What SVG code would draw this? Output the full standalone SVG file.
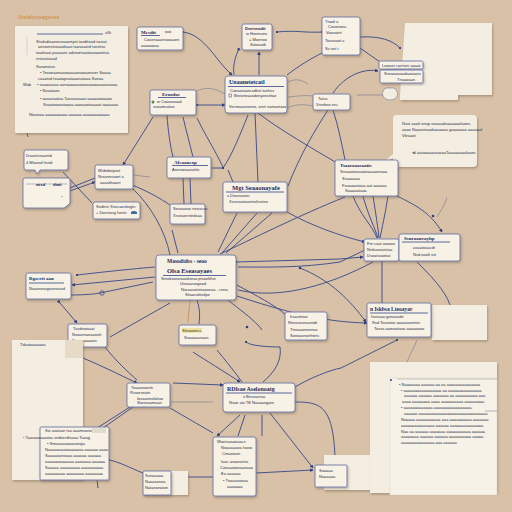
<svg xmlns="http://www.w3.org/2000/svg" width="512" height="512" viewBox="0 0 512 512">
<defs>
<marker id="ar" viewBox="0 0 6 6" refX="5" refY="3" markerWidth="4" markerHeight="4" orient="auto"><path d="M0,0L6,3L0,6z" fill="#2e3f80"/></marker>
<marker id="as" viewBox="0 0 6 6" refX="1" refY="3" markerWidth="4" markerHeight="4" orient="auto"><path d="M6,0L0,3L6,6z" fill="#2e3f80"/></marker>
<marker id="dt" viewBox="0 0 6 6" refX="3" refY="3" markerWidth="3" markerHeight="3"><circle cx="3" cy="3" r="2.5" fill="#2e3f80"/></marker>
<filter id="sh" x="-10%" y="-10%" width="130%" height="130%"><feDropShadow dx="1" dy="1.5" stdDeviation="1" flood-color="#6b5a48" flood-opacity="0.45"/></filter>
</defs>
<style>
.n{fill:#f7f1e6;stroke:#6d7aa8;stroke-width:0.9;filter:url(#sh)}
.note{fill:#f4eee2;stroke:none;filter:url(#sh)}
.c{fill:none;stroke:#34468a;stroke-width:0.9}
.g{fill:none;stroke:#8e8c98;stroke-width:0.8}
.h{font-family:"Liberation Serif",serif;font-weight:bold;fill:#1d2a5c}
.t{font-family:"Liberation Sans",sans-serif;fill:#2b2f45;font-size:4px}
.u{stroke:#34468a;stroke-width:0.8}
</style>
<rect width="512" height="512" fill="#d8c1a7"/>

<g id="connectors">
<path class="c" d="M183,32 C205,35 215,60 232,75" marker-start="url(#dt)" marker-end="url(#ar)"/>
<path class="c" d="M238,51 C234,60 233,68 234,75" marker-start="url(#ar)"/>
<path class="c" d="M259,75 L259,52" marker-end="url(#ar)"/>
<path class="c" d="M277,32 C295,30 305,33 322,32" marker-start="url(#dt)" marker-end="url(#dt)"/>
<path class="c" d="M287,75 C300,65 312,58 322,53"/>
<path class="c" d="M360,37 C380,36 392,40 400,48" marker-end="url(#dt)"/>
<path class="c" d="M360,48 L380,62"/>
<path class="c" d="M333,93 C345,75 365,68 378,71" marker-end="url(#ar)"/>
<path class="g" d="M357,95 L383,95"/>
<path class="g" d="M288,82 C296,78 302,80 308,84"/>
<path class="g" d="M288,97 C298,96 305,95 313,96"/>
<path class="g" d="M287,108 C296,104 303,104 313,106"/>
<path class="c" d="M328,110 C315,130 300,155 288,186"/>
<path class="c" d="M333,110 C338,125 342,145 345,160"/>
<path class="c" d="M258,113 C280,130 315,150 337,163"/>
<path class="c" d="M248,115 C240,135 232,155 223,168" marker-end="url(#dt)"/>
<path class="c" d="M255,113 L258,182"/>
<path class="c" d="M197,105 L225,105" marker-start="url(#dt)" marker-end="url(#ar)"/>
<path class="g" d="M195,92 C205,86 215,88 225,94"/>
<path class="c" d="M153,117 L123,165" marker-end="url(#ar)"/>
<path class="c" d="M167,115 C168,130 170,145 173,157"/>
<path class="c" d="M183,117 C186,130 190,145 193,157"/>
<path class="c" d="M197,118 C205,135 215,150 223,167"/>
<path class="c" d="M211,168 L223,168"/>
<path class="c" d="M63,172 L92,203"/>
<path class="c" d="M67,192 L95,182" marker-end="url(#ar)"/>
<path class="c" d="M70,188 L95,178"/>
<path class="g" d="M133,175 L150,177"/>
<path class="c" d="M132,185 C145,190 160,198 170,205"/>
<path class="c" d="M133,189 C150,205 165,230 170,255"/>
<path class="c" d="M183,178 L184,204"/>
<path class="c" d="M190,178 L191,204"/>
<path class="c" d="M228,170 L233,182"/>
<path class="c" d="M155,267 C120,270 95,273 77,275" marker-end="url(#dt)"/>
<path class="c" d="M155,277 L72,285" marker-end="url(#ar)"/>
<path class="c" d="M70,295 C85,295 95,294 100,293 L153,282"/>
<circle cx="102" cy="293" r="2.2" fill="none" stroke="#34468a" stroke-width="0.8"/>
<path class="c" d="M60,303 L77,323" marker-start="url(#ar)" marker-end="url(#ar)"/>
<path class="c" d="M110,337 L170,303"/>
<path class="c" d="M218,252 L237,213"/>
<path class="c" d="M222,253 L257,213"/>
<path class="c" d="M226,253 L272,213"/>
<path class="c" d="M220,254 C250,240 300,215 345,197"/>
<path class="c" d="M172,230 L178,253"/>
<path class="c" d="M236,262 L340,259 L363,257" marker-start="url(#dt)" marker-end="url(#ar)"/>
<path class="c" d="M238,267 C270,267 300,268 340,262 L365,250"/>
<circle cx="300" cy="268" r="1.3" fill="#2e3f80"/>
<path class="c" d="M300,268 C330,280 350,300 366,322" marker-end="url(#ar)"/>
<path class="c" d="M287,212 C310,225 340,236 365,242" marker-end="url(#ar)"/>
<path class="c" d="M238,290 C280,300 330,285 373,262"/>
<path class="c" d="M353,196 C360,215 372,225 377,238"/>
<path class="c" d="M363,196 C368,215 375,228 378,238"/>
<path class="c" d="M373,196 C376,215 378,228 379,238"/>
<path class="c" d="M388,196 C385,215 382,228 380,238"/>
<path class="c" d="M397,196 C415,205 430,212 442,232" marker-end="url(#ar)"/>
<circle cx="433" cy="216" r="1.3" fill="#2e3f80"/>
<path class="g" d="M447,197 C445,205 440,212 437,217"/>
<path class="c" d="M382,260 L382,303"/>
<path class="c" d="M417,262 C430,275 445,290 450,305"/>
<path class="c" d="M237,296 C280,310 320,322 367,323" marker-end="url(#ar)"/>
<path class="c" d="M237,285 C255,295 275,305 286,315"/>
<path class="c" d="M228,300 C240,310 255,320 262,330"/>
<circle cx="247" cy="327" r="1.3" fill="#2e3f80"/>
<path d="M190,300 L188,322" fill="none" stroke="#c98a52" stroke-width="0.8"/>
<path class="c" d="M197,300 C200,310 200,315 199,324"/>
<path class="c" d="M83,358 C100,365 120,375 137,383" marker-end="url(#ar)"/>
<path class="c" d="M105,347 C115,360 128,372 137,380"/>
<path class="c" d="M130,407 L97,428"/>
<path class="c" d="M133,407 L103,428"/>
<path class="c" d="M109,460 C120,462 130,468 143,473" marker-start="url(#dt)"/>
<path class="c" d="M97,480 L98,488"/>
<path class="c" d="M193,352 C205,360 225,372 240,382" marker-end="url(#ar)"/>
<path class="c" d="M217,350 C225,360 235,372 242,382"/>
<path class="c" d="M246,342 C250,346 270,347 280,347 C282,360 275,372 263,382" marker-start="url(#dt)"/>
<path class="c" d="M173,383 L223,385" marker-end="url(#ar)"/>
<path class="g" d="M170,402 L213,402"/>
<path class="c" d="M170,408 L213,433"/>
<path class="c" d="M295,387 C310,378 330,370 341,368 L397,340" marker-end="url(#dt)"/>
<path class="c" d="M295,402 C320,402 333,405 335,457" marker-start="url(#ar)"/>
<path class="c" d="M270,413 L313,468" marker-end="url(#ar)"/>
<path class="c" d="M240,415 L217,436" marker-end="url(#ar)"/>
<path class="c" d="M245,415 L238,436"/>
<path class="c" d="M262,415 L262,436"/>
<path class="c" d="M256,473 L313,470" marker-end="url(#ar)"/>
<path class="c" d="M188,477 L213,477"/>
<path class="g" d="M417,340 C414,348 410,354 407,362"/>
</g>

<text x="18" y="19" style="font-family:'Liberation Sans',sans-serif;font-size:5.5px;fill:#d08a40">Ntstafoneagenss</text>

<g id="n1">
<rect class="note" x="15" y="26" width="113" height="107" rx="1"/>
<line x1="37" y1="34" x2="103" y2="34" class="u"/>
<text class="t" x="105" y="34">aSt</text>
<line x1="27" y1="37" x2="27" y2="55" stroke="#b8b8c4" stroke-width="0.6"/>
<text class="t" x="36" y="43">Stsdsdtaaeonsaaontyst  tasdttaod taroat</text>
<text class="t" x="38" y="48">aenoeretsoaodsaat taosaastd tsesttsc</text>
<text class="t" x="36" y="54">tsadsaat pasaaes adsnontaatoasaoontsa</text>
<text class="t" x="36" y="60">nrstastsaad</text>
<text class="t" x="36" y="68">Sasonotas</text>
<text class="t" x="40" y="74">• Teeaeaonaaotaaaaeaoaaotsrer  Saaaa</text>
<text class="t" x="38" y="80">caaatsd  tsaatapsataaanataaa  Saeaa</text>
<text class="t" x="23" y="86">Wab</text>
<text class="t" x="37" y="86">• ssaoasaas aenoaaoasoanaaoaoaaaosaoaa</text>
<text class="t" x="40" y="92">• Nsaataos</text>
<text class="t" x="40" y="100">• aasanaatsa Taeasaraaat aaaaaooaaoo</text>
<text class="t" x="43" y="106">Sraatoaoastaoaa aaoaaotaaaaat aaaaaoa</text>
<text class="t" x="29" y="116" style="fill:#1d2a5c">Ntasoaa aaaaaaaaaa  aaaaaa aaaaaaaaaaaa</text>
<line x1="27" y1="133" x2="28" y2="137" class="u"/>
</g>

<g id="n2">
<rect class="n" x="137" y="27" width="46" height="23" rx="2"/>
<text class="h" x="141" y="34" font-size="5">Mesdtt</text>
<line x1="141" y1="35.5" x2="160" y2="35.5" class="u"/>
<text class="t" x="165" y="33">wat</text>
<text class="t" x="144" y="41">Coasnaaanraoaaen</text>
<text class="t" x="141" y="47">aaoaaoaa</text>
</g>

<g id="n3">
<rect class="n" x="242" y="24" width="30" height="26" rx="2"/>
<text class="t" x="245" y="30" style="fill:#1d2a5c;font-weight:bold">Dnetseadtt</text>
<text class="t" x="246" y="35">w Heemuns</text>
<text class="t" x="249" y="41">= Moenoo</text>
<text class="t" x="250" y="46">Sotoasdr</text>
</g>

<g id="n4">
<rect class="n" x="322" y="17" width="38" height="38" rx="2"/>
<text class="t" x="325" y="23">Tnwd  u</text>
<text class="t" x="328" y="28">Ceasnoea</text>
<text class="t" x="326" y="34">Voasatnt</text>
<text class="t" x="325" y="42">Toassaot  u</text>
<text class="t" x="325" y="50">Sv   aet  t</text>
</g>

<g id="n5">
<path class="note" d="M405,23 L492,23 L492,95 L458,95 L458,100 L400,100 L400,95 Z"/>
</g>

<g id="n6">
<rect class="n" x="379" y="61" width="44" height="8" rx="1.5"/>
<text class="t" x="382" y="66.5">Lowast carrtser aaaat</text>
<rect class="n" x="380" y="70" width="43" height="13" rx="1.5"/>
<text class="t" x="384" y="75">Sseaaoaaadaaoaats</text>
<text class="t" x="397" y="80.5">Tnaaoaan</text>
<path d="M386,88 C380,91 382,100 390,100 C398,100 400,92 394,88 Z" fill="#f4eee2" stroke="#6d7aa8" stroke-width="0.6"/>
</g>

<g id="n7">
<rect class="n" x="225" y="76" width="62" height="37" rx="3"/>
<text class="h" x="229" y="84" font-size="6">Unaanetetcatl</text>
<line x1="228" y1="86.5" x2="284" y2="86.5" class="u"/>
<text class="t" x="230" y="92">Coeaanaotcadkst  tashes</text>
<rect x="229" y="94" width="2.5" height="3" fill="none" stroke="#34468a" stroke-width="0.5"/>
<text class="t" x="234" y="97">Bistuneaasdonyonctitaz</text>
<text class="t" x="229" y="108">Vecmaareoeno, srsrt sumantaze</text>
</g>

<g id="n8">
<rect class="n" x="150" y="90" width="46" height="25" rx="2"/>
<text class="h" x="162" y="96" font-size="5">Eroodas</text>
<line x1="158" y1="97.5" x2="186" y2="97.5" class="u"/>
<circle cx="153" cy="102" r="1.5" fill="#5a8a4a"/>
<text class="t" x="157" y="103">w Coaoosaad</text>
<text class="t" x="153" y="108">xsoamcotuo</text>
</g>

<g id="n9">
<rect class="n" x="313" y="94" width="37" height="16" rx="2"/>
<text class="t" x="318" y="100">Tatus</text>
<text class="t" x="316" y="106">Vsrnbos  eru</text>
</g>

<g id="n10">
<path class="note" d="M396,115 L473,115 Q477,115 477,119 L477,163 Q477,167 473,167 L400,167 Q393,167 393,163 L393,158 L384,162 L393,154 L393,119 Q393,115 396,115 Z"/>
<text class="t" x="402" y="125">Nsat  aaott  onap anaaadsaaaaaafaoee,</text>
<text class="t" x="402" y="131">aaae Naaannaadsaaaaxa gaaaaaaa aaaaaal</text>
<text class="t" x="402" y="137">Vleaaot</text>
<text class="t" x="412" y="154">≪ aataoaaatauaaaTaaaaaaaafaaes</text>
</g>

<g id="n11">
<path class="n" d="M26,150 L66,150 Q68,150 68,152 L68,168 Q68,170 66,170 L40,170 L37,174 L35,170 L26,170 Q24,170 24,168 L24,152 Q24,150 26,150 Z"/>
<text class="t" x="26" y="157">Dsastsrsaarttd</text>
<text class="t" x="26" y="164">4 Mtasnd  Invtd</text>
</g>

<g id="n12">
<path class="n" d="M25,178 L68,178 Q70,178 70,180 L70,203 L67,206 L64,208 L25,208 Q23,208 23,206 L23,180 Q23,178 25,178 Z"/>
<line x1="26" y1="184" x2="67" y2="184" stroke="#6d7aa8" stroke-width="0.5"/>
<text class="t" x="36" y="186" style="fill:#1d2a5c;font-weight:bold">wtsd</text>
<text class="t" x="53" y="186" style="fill:#1d2a5c;font-weight:bold">dtatt</text>
<text class="t" x="61" y="199">*</text>
</g>

<g id="n13">
<rect class="n" x="95" y="165" width="38" height="24" rx="2"/>
<text class="t" x="98" y="172">Wsbtdotpost</text>
<text class="t" x="98" y="178">Nrsannssoet  a</text>
<text class="t" x="100" y="184">aasatlnaant</text>
</g>

<g id="n14">
<rect class="n" x="93" y="202" width="47" height="17" rx="2"/>
<text class="t" x="96" y="208">Sedtntr  Xnecaecbsgts</text>
<text class="t" x="96" y="214">+  Dosrtang  Isetst</text>
<path d="M131,212 q3,-2 6,0 l0,2 l-6,0z" fill="#3a6aa8"/>
</g>

<g id="n15">
<rect class="n" x="167" y="157" width="44" height="21" rx="2"/>
<text class="h" x="174" y="164" font-size="5">Afeaaneop</text>
<line x1="172" y1="165.5" x2="208" y2="165.5" class="u"/>
<text class="t" x="172" y="171">Asesanaasattts</text>
</g>

<g id="n16">
<rect class="n" x="170" y="204" width="35" height="20" rx="2"/>
<text class="t" x="173" y="210">Seasaoan nssiscss</text>
<text class="t" x="173" y="217">Xsseaeretedsaa</text>
</g>

<g id="n17">
<rect class="n" x="223" y="182" width="64" height="30" rx="2"/>
<text class="h" x="232" y="190" font-size="6.5">Mgt  Seaaonayafe</text>
<line x1="226" y1="192" x2="284" y2="192" class="u"/>
<text class="t" x="227" y="197">x  Dtaesanon</text>
<text class="t" x="229" y="203">Xrcesoatsantsshsstnx</text>
</g>

<g id="n18">
<rect class="n" x="335" y="160" width="63" height="36" rx="2"/>
<text class="h" x="340" y="167" font-size="5">Tsaaroaasaatte</text>
<text class="t" x="340" y="173">Srsaaotanaatataaaaonaaa</text>
<text class="t" x="342" y="180">Ssaaaaaa</text>
<text class="t" x="342" y="187">Fsaoaaatoaa  aat  aaoaaa</text>
<text class="t" x="345" y="192">Saaaaataaa</text>
</g>

<g id="n19">
<rect class="n" x="364" y="239" width="35" height="22" rx="2"/>
<text class="t" x="367" y="245">Fre caat aoooai</text>
<text class="t" x="367" y="251">Nrdsaroatstaa</text>
<text class="t" x="367" y="257">Dsoatsaoinat</text>
</g>

<g id="n20">
<rect class="n" x="399" y="234" width="61" height="27" rx="2"/>
<text class="h" x="404" y="240" font-size="5">Ssnraanvayhp</text>
<line x1="402" y1="242" x2="450" y2="242" class="u"/>
<text class="t" x="413" y="249">asaatoaacdt</text>
<text class="t" x="413" y="256">Nsd  oaolt  xst</text>
</g>

<g id="n21">
<rect class="n" x="156" y="255" width="80" height="45" rx="3"/>
<text class="h" x="167" y="263" font-size="5.5">Masodtdss - seoo</text>
<text class="h" x="167" y="273" font-size="6.5">Olsa  Eseasayaes</text>
<line x1="163" y1="275.5" x2="226" y2="275.5" class="u"/>
<text class="t" x="161" y="280">Srnoksoraraardunsa  ptsaelrhst</text>
<text class="t" x="180" y="285">Unsaarasgoad</text>
<text class="t" x="181" y="291">Naraasatstsaoanas - cnna</text>
<text class="t" x="185" y="296">Sttaaratttatlpe</text>
</g>

<g id="n22">
<rect class="n" x="26" y="273" width="45" height="26" rx="2"/>
<text class="h" x="29" y="280" font-size="5">Rgsertt   aan</text>
<line x1="29" y1="283" x2="64" y2="283" class="u"/>
<text class="t" x="29" y="290">Naaaneargoantsasd</text>
</g>

<g id="n23">
<rect class="n" x="68" y="324" width="39" height="23" rx="2"/>
<text class="t" x="73" y="330">Tasdnoiaaat</text>
<text class="t" x="72" y="336">Nsoannaeaanoh</text>
<text class="t" x="72" y="342">Seaaaaaaaes</text>
</g>

<g id="n24">
<rect class="n" x="179" y="325" width="37" height="20" rx="2"/>
<rect x="182" y="328" width="20" height="5" fill="#f1e49a"/>
<text class="t" x="182" y="332">Sttuaomcs</text>
<text class="t" x="184" y="339">Ssaaaaasaan</text>
</g>

<g id="n25">
<rect class="n" x="285" y="312" width="42" height="28" rx="2"/>
<text class="t" x="290" y="318">Iraastntae</text>
<text class="t" x="288" y="324">Ntsraseanasntdr</text>
<text class="t" x="290" y="331">Ttsouaoneenas</text>
<text class="t" x="290" y="337">Sonoasnonhtets</text>
</g>

<g id="n26">
<rect class="note" x="432" y="305" width="55" height="35"/>
<rect class="n" x="367" y="303" width="64" height="34" rx="2"/>
<text class="h" x="370" y="311" font-size="5.5">n   Iskbsa   Lteoayar</text>
<line x1="370" y1="313" x2="428" y2="313" class="u"/>
<text class="t" x="371" y="318">Issnaaa gonaasds</text>
<text class="t" x="372" y="324">Ssd Toastoar aaasasantsts</text>
<text class="t" x="374" y="330">Tossa aamaotaos aaaaaooo</text>
</g>

<g id="n27">
<rect class="n" x="127" y="383" width="43" height="24" rx="2"/>
<text class="t" x="131" y="389">Tsaaaneartn</text>
<text class="t" x="130" y="394">Rssorseatn</text>
<text class="t" x="137" y="400">Iosaaneelalnar</text>
<text class="t" x="137" y="404">Stasnaamaan</text>
</g>

<g id="n28">
<rect class="n" x="223" y="383" width="72" height="29" rx="3"/>
<text class="h" x="227" y="391" font-size="6">RDlsae  Aselonoatg</text>
<line x1="226" y1="393" x2="292" y2="393" class="u"/>
<text class="t" x="243" y="398">x    Bessanraa</text>
<text class="t" x="229" y="404">Nsae  ats  TE  Noaaangarn</text>
</g>

<g id="n29">
<rect class="note" x="12" y="340" width="71" height="140"/>
<text class="t" x="20" y="346" style="fill:#1d2a5c">Tdasiaaaaaoa</text>
<rect x="65" y="340" width="18" height="18" fill="#e7dac6"/>
</g>

<g id="n30">
<rect class="n" x="40" y="427" width="69" height="53" rx="1"/>
<text class="t" x="45" y="432">Sis aeataor tsa aaamsanod</text>
<rect x="92" y="428" width="14" height="5" fill="#e2dccf"/>
<text class="t" x="23" y="439"><tspan fill="#c0504d">•</tspan> Taasaaoaaatoa sndoerdtsaoa Taoug</text>
<text class="t" x="47" y="445">• Smoaaaaoaanoniya</text>
<text class="t" x="45" y="451">Naaaaoaaaoaaaaoaa aaaaaa aaoa</text>
<text class="t" x="45" y="457">Saaaaoanoaaa  aaaaaa  aaaaaa</text>
<text class="t" x="45" y="463">aaaaaoaaaaaaa aaoaaaa aaaaaa</text>
<text class="t" x="45" y="469">Saaaaa   aaaaaaaaa aaaaaaaaaa</text>
<text class="t" x="45" y="475">aaaaaaaaa  aaaaaaaa aaaaaaaa</text>
</g>

<g id="n31">
<rect class="n" x="213" y="437" width="43" height="59" rx="2"/>
<text class="t" x="217" y="443">Waetsaaaeaacs</text>
<text class="t" x="221" y="449">Noaaaaaoa  Isoos</text>
<text class="t" x="222" y="455">Cmaatasn</text>
<text class="t" x="221" y="463">Iaac  asoanesta</text>
<text class="t" x="220" y="469">Conaaatooaanaaa</text>
<text class="t" x="221" y="475">Ea  aaaaaa</text>
<text class="t" x="223" y="482">•  Tnaaasooaa</text>
<text class="t" x="227" y="488">aaaaaaa</text>
</g>

<g id="n32">
<rect class="note" x="143" y="471" width="45" height="24"/>
<rect class="n" x="143" y="471" width="28" height="24" rx="1"/>
<text class="t" x="145" y="477">Sunaaaaa</text>
<text class="t" x="145" y="483">Naaasanoa</text>
<text class="t" x="145" y="489">Natanonaton</text>
</g>

<g id="n33">
<rect class="note" x="324" y="455" width="57" height="35"/>
<rect class="n" x="315" y="465" width="32" height="22" rx="1"/>
<text class="t" x="319" y="472">Saaaaa</text>
<text class="t" x="319" y="478">Naaaaaa</text>
</g>

<g id="n34">
<rect class="note" x="370" y="362" width="127" height="131"/>
<rect x="390" y="378" width="107" height="117" fill="#f7f2e8" stroke="#e0d6c6" stroke-width="0.6"/>
<circle cx="391" cy="380" r="1" fill="#34468a"/>
<line x1="397" y1="379" x2="497" y2="379" stroke="#8e8c98" stroke-width="0.5"/>
<text class="t" x="399" y="386">•  Naaaaaaa aaaaaa aa aa aaaaaaaaaaaaaaa</text>
<text class="t" x="401" y="392">• aaaaaaaaaaaaaaaaa aa aaaaaaaaaaaaaaa</text>
<text class="t" x="404" y="397">aaaaaa aaaaaa aaaaaaa aa aaaaaaaaaa aaa</text>
<text class="t" x="402" y="403">aaaa aaaaaaaa aaaa aaaaaaaaaa aaaaaaaaa</text>
<text class="t" x="401" y="409">•  aaaaaaaaaaaaa aaaaaaaaaaaaaaaaa</text>
<line x1="485" y1="411" x2="497" y2="411" stroke="#8e8c98" stroke-width="0.6"/>
<text class="t" x="404" y="415">aaaaaa aaaaaaaaaaaaaaaaaaaaaaaaaaaaaaa</text>
<text class="t" x="401" y="421">Naaaaa aaaaaaaaaaa aaa aaaaaaaaaa aaaaaaa</text>
<text class="t" x="401" y="427">aaaaaaaaaaaaaaa aaaaaa aaaaaaaaaaaaaaa</text>
<text class="t" x="401" y="433">Naa aa aaaaaa aaaaaaa aaaaaaaaaaa aaaaaa</text>
<text class="t" x="401" y="438">aaaaaaaa aaaaaa aaaaaa aaaaaaaaaa aaaaa</text>
<text class="t" x="401" y="444">aaaaaaaaaaaaaaa aaa aaaaaa</text>
</g>
</svg>
